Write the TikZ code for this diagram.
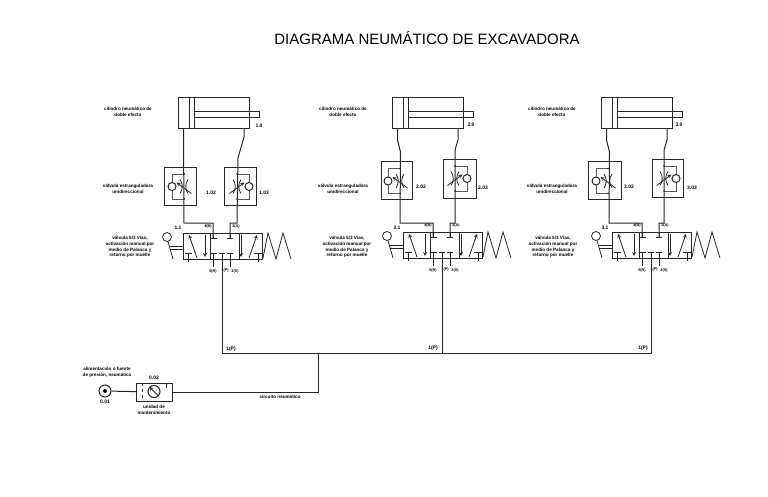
\documentclass[tikz,border=0pt]{standalone}
\usepackage{fontspec}
\setmainfont{Liberation Sans}
\usetikzlibrary{positioning,shapes.geometric}

\tikzset{
    pipe/.style={draw=black!85, line width=1pt},
    thin line/.style={draw=black!85, line width=0.8pt},
    arrowed/.style={thin line, ->, >=stealth},
    box/.style={draw=black!85, line width=1pt, rectangle, anchor=north west, inner sep=0pt, outer sep=0pt},
    note/.style={align=center, inner sep=0pt, font=\fontsize{4.6}{5.7}\selectfont\bfseries},
    tag/.style={inner sep=0pt, font=\fontsize{5}{6}\selectfont\bfseries},
    portlabel/.style={inner sep=0pt, font=\fontsize{3.8}{4}\selectfont\bfseries},
    cylinder/.pic={
        \node[box, minimum width=71pt, minimum height=31pt] (-body) at (0,0) {};
        \draw[thin line] (11,0) -- (11,31) (16,0) -- (16,31);
        \draw[thin line] (16,13) -- (81,13) -- (81,19) -- (16,19);
        \coordinate (-a) at (5.5,31);
        \coordinate (-b) at (66,31);
    },
    throttle/.pic={
        \draw[thin line, draw=black!65] (0,-12.5) -- (-12,-12.5) -- (-12,12.5) -- (0,12.5);
        \draw[pipe, fill=white] (-12,0) circle (4);
        \fill[black!85] (0,-12.5) circle (1) (0,12.5) circle (1);
        \draw[thin line] (-4,-7) .. controls (-1,-3) and (-1,3) .. (-4,7);
        \draw[thin line] (4,-7) .. controls (1,-3) and (1,3) .. (4,7);
        \draw[arrowed] (7.5,7) -- (-7.5,-4);
    },
    valvesym/.pic={
        \node[box, minimum width=79pt, minimum height=26pt] (-body) at (0,0) {};
        \draw[thin line] (27,0) -- (27,26) (56,0) -- (56,26);
        % left cell
        \draw[arrowed] (14,25) -- (6,2);
        \draw[thin line] (2,20) -- (9,20) (5.5,20) -- (5.5,29);
        \draw[arrowed] (22,2) -- (22,24);
        % middle cell
        \draw[thin line] (27,5) -- (34,5) (44,5) -- (50,5);
        \draw[thin line] (27,20) -- (34,20) (36,20) -- (42,20) (44,20) -- (50,20);
        \draw[thin line] (30,20) -- (30,34) (47,20) -- (47,34);
        % right cell
        \draw[arrowed] (58,2) -- (58,24);
        \draw[arrowed] (66,25) -- (74,2);
        \draw[thin line] (71,20) -- (79,20) (75,20) -- (75,29);
        % spring
        \draw[thin line] (80,25) -- (85,0) -- (93,26) -- (100,0) -- (108,26);
        % lever
        \draw[thin line] (-16,4) circle (4.5);
        \draw[thin line] (-15,8.5) -- (-10,26);
        \draw[thin line] (-13,13) -- (0,13) (-13,16) -- (0,16);
        \coordinate (-a) at (30,5);
        \coordinate (-b) at (47,5);
        \coordinate (-p) at (39,20);
        \draw[thin line] (-a) -- (30,0) (-b) -- (47,0);
        \node[portlabel] (-l4) at (25,-6) {4(B)};
        \node[portlabel] (-l2) at (53,-6) {2(A)};
        \node[portlabel] (-l5) at (30,39) {5(R)};
        \node[portlabel] (-l1) at (42,37.5) {1(P)};
        \node[portlabel] (-l3) at (52,39) {3(S)};
    }
}

\begin{document}
\begin{tikzpicture}[x=1pt,y=-1pt]
    \useasboundingbox (0,0) rectangle (768,497);

    \node[inner sep=0pt, font=\fontsize{15}{18}\selectfont] (title) at (427,38) {DIAGRAMA NEUMÁTICO DE EXCAVADORA};

    % the three working units
    \foreach \n/\x in {1/178,2/392,3/601}
        \pic (c\n) at (\x,98) {cylinder};
    \foreach \n/\x/\y in {1/183/233,2/403/232,3/612/232}
        \pic (v\n) at (\x,\y) {valvesym};

    \node[box, minimum width=32pt, minimum height=38pt] (t1a) at (164,168) {};
    \node[box, minimum width=32pt, minimum height=38pt] (t1b) at (224,168) {};
    \node[box, minimum width=31pt, minimum height=38pt] (t2a) at (381,162) {};
    \node[box, minimum width=33pt, minimum height=39pt] (t2b) at (443,160) {};
    \node[box, minimum width=33pt, minimum height=38pt] (t3a) at (588,162) {};
    \node[box, minimum width=31pt, minimum height=38pt] (t3b) at (652,160) {};

    \pic at (184,186.5) {throttle};
    \pic[xscale=-1] at (237,186.5) {throttle};
    \pic at (400,181) {throttle};
    \pic[xscale=-1] at (455,178.5) {throttle};
    \pic at (608,181) {throttle};
    \pic[xscale=-1] at (664,178.5) {throttle};

    \draw[pipe] (c1-a) -- (184,223) -| (v1-a);
    \draw[pipe] (c1-b) -- ++(0,8) -- ++(-6,21) -- (237,223) -| (v1-b);
    \draw[pipe] (c2-a) -- ++(0,11) -- ++(3,12) -- (400,223) -| (v2-a);
    \draw[pipe] (c2-b) -- ++(0,11) -- ++(-3,10) -- (455,223) -| (v2-b);
    \draw[pipe] (c3-a) -- ++(0,11) -- ++(3,12) -- (609,223) -| (v3-a);
    \draw[pipe] (c3-b) -- ++(0,11) -- ++(-3,10) -- (664,223) -| (v3-b);

    % air supply
    \coordinate (bus3) at (v3-p |- 0,353);
    \coordinate (tee) at (318,353);
    \node[draw=black!85, line width=1pt, circle, minimum size=12pt, inner sep=0pt] (src) at (105,391) {};
    \fill[black] (src.center) circle (2);
    \node[box, minimum width=36pt, minimum height=18pt] (unit) at (136,383) {};
    \node[draw=black!85, line width=1pt, circle, minimum size=12pt, inner sep=0pt] (gauge) at (154,391.5) {};
    \draw[arrowed] (gauge.south east) -- (gauge.north west);
    \draw[thin line, dashed] (142,383) -- (142,401);
    \draw[thin line] (166,384) -- (166,388);

    \draw[pipe] (v1-p) |- (bus3) -- (v3-p);
    \draw[pipe] (v2-p) -- (v2-p |- bus3);
    \draw[pipe] (tee) |- (unit.east);
    \draw[pipe] (src) -- (unit);

    % texts
    \foreach \n/\x in {1/128,2/343,3/552} {
        \node[note] (cyltext\n) at (\x,112) {cilindro neumático de\\doble efecto};
        \node[note] (chktext\n) at (\x,189) {válvula estranguladora\\unidireccional};
    }
    \foreach \n/\x in {1/130,2/347,3/553}
        \node[note] (valtext\n) at (\x,247) {válvula 5/3 Vías,\\activación manual por\\medio de Palanca y\\retorno por muelle};

    \node[tag] (n10) at (259,126) {1.0};
    \node[tag] (n20) at (471,125) {2.0};
    \node[tag] (n30) at (679,125) {3.0};
    \node[tag] (n102) at (211,193) {1.02};
    \node[tag] (n103) at (264,193) {1.03};
    \node[tag] (n202) at (421,187) {2.02};
    \node[tag] (n203) at (483,188) {2.03};
    \node[tag] (n302) at (629,187) {3.02};
    \node[tag] (n303) at (692,188) {3.03};
    \node[tag] (n11) at (178,228) {1.1};
    \node[tag] (n21) at (397,228) {2.1};
    \node[tag] (n31) at (605,228) {3.1};
    \node[tag] (p1) at (231,349) {1(P)};
    \node[tag] (p2) at (433,348) {1(P)};
    \node[tag] (p3) at (643,348) {1(P)};
    \node[note] (srctext) at (107,372) {alimentación o fuente\\de presión, neumática};
    \node[tag] (n002) at (154,378) {0.02};
    \node[tag] (n001) at (105,402) {0.01};
    \node[note] (unittext) at (154,410) {unidad de\\mantenimiento};
    \node[note] (circtext) at (280,397) {circuito neumático};
\end{tikzpicture}
\end{document}
